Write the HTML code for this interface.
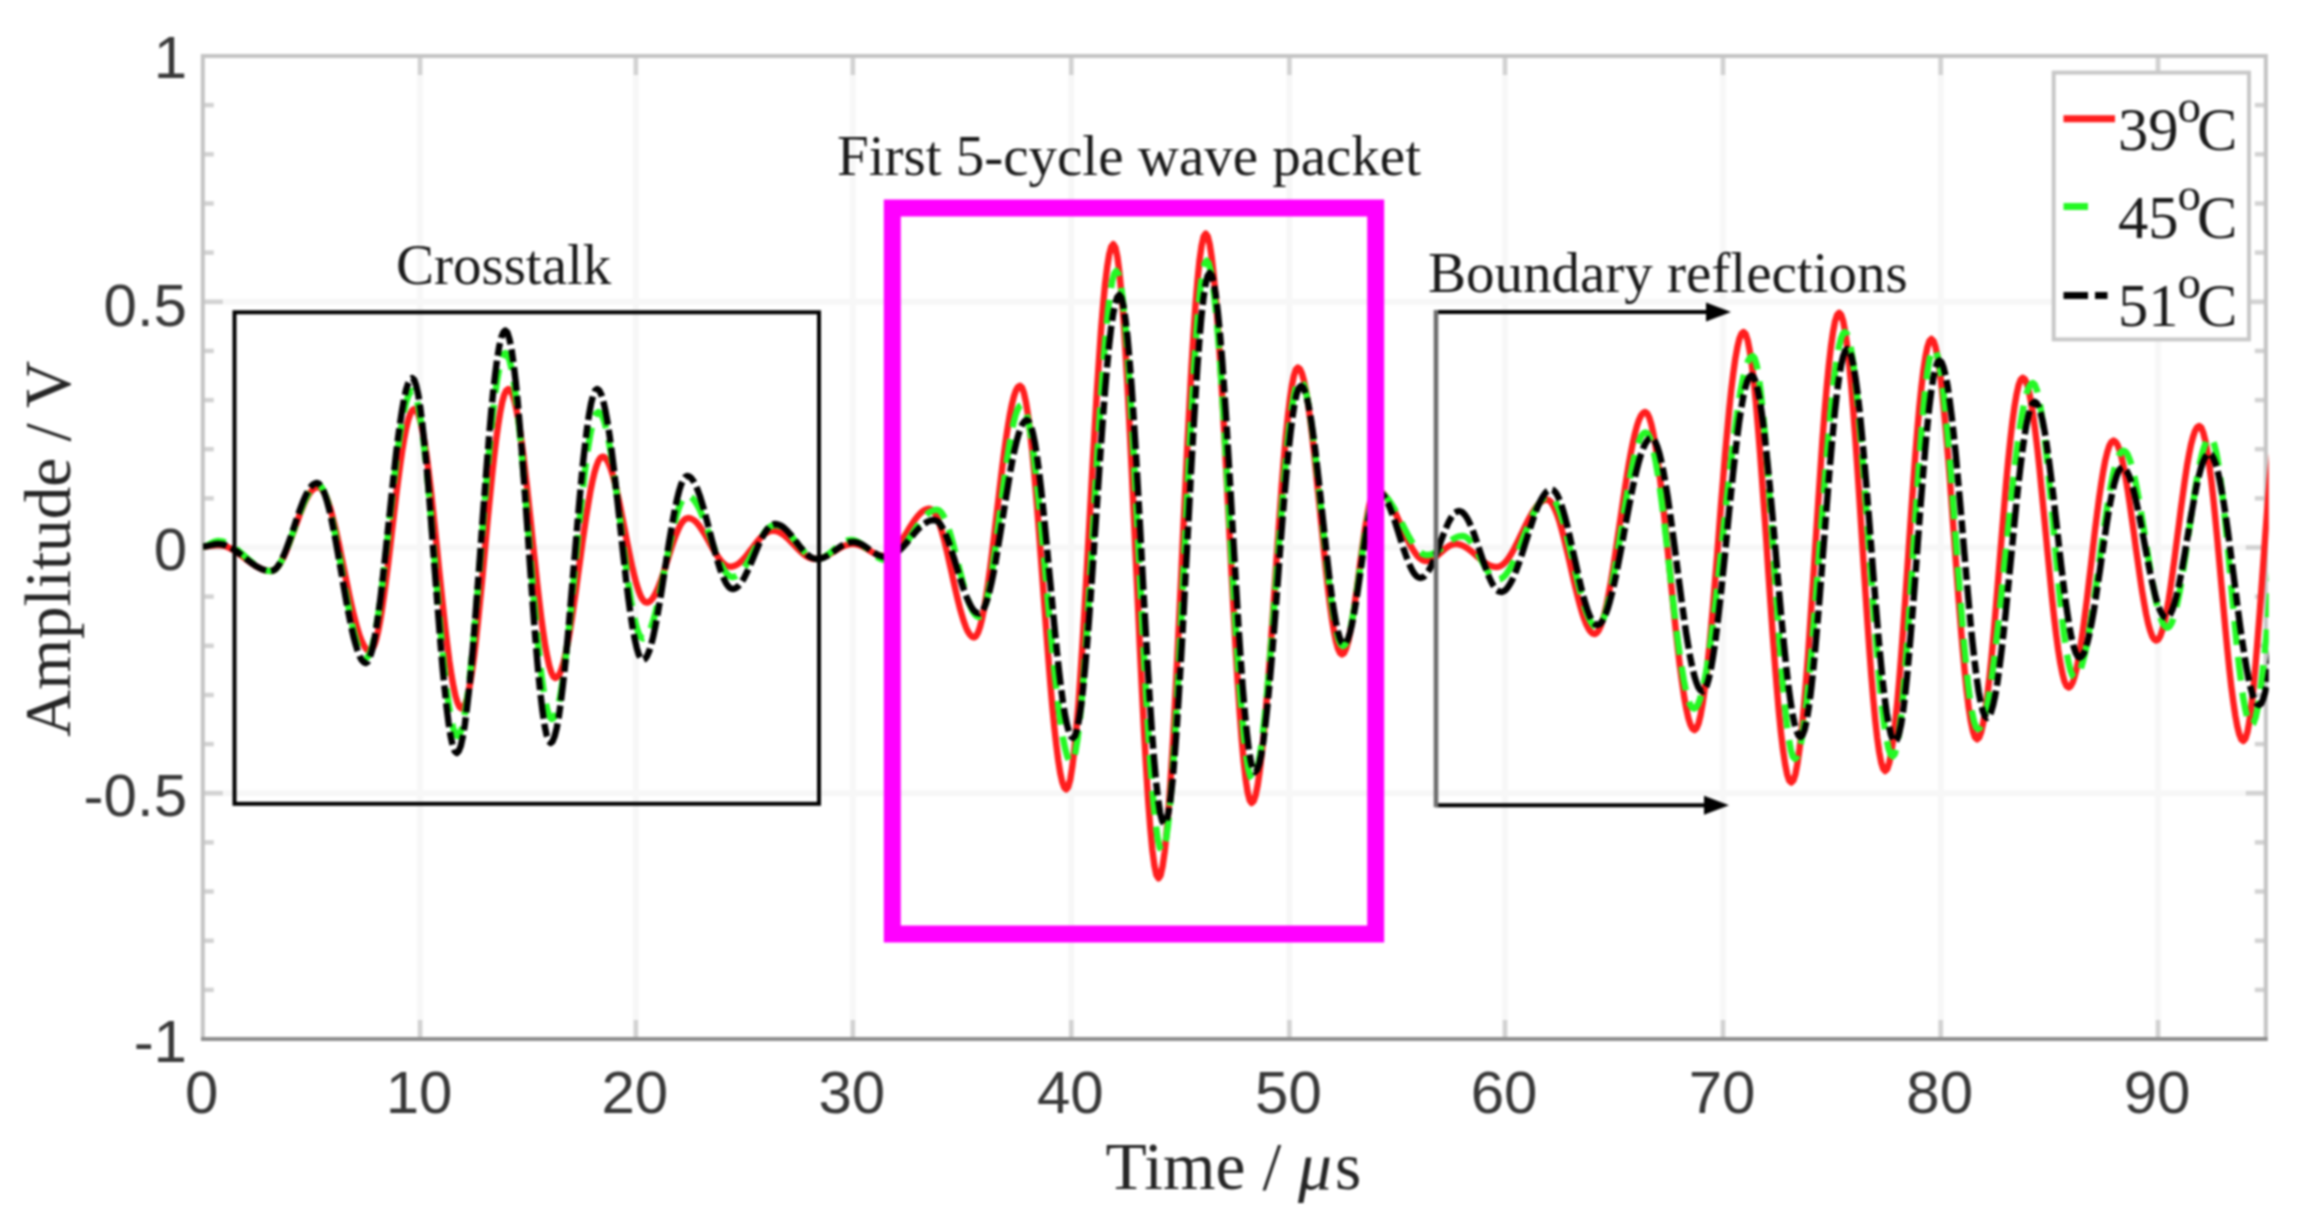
<!DOCTYPE html>
<html lang="en"><head><meta charset="utf-8"><title>Waveforms</title>
<style>html,body{margin:0;padding:0;background:#fff}body{width:2309px;height:1229px;overflow:hidden}svg{display:block;filter:blur(1.1px)}</style></head>
<body>
<svg width="2309" height="1229" viewBox="0 0 2309 1229">
<defs><clipPath id="pc"><rect x="202.8" y="56.0" width="2066.0" height="983.0"/></clipPath></defs>
<rect width="2309" height="1229" fill="#fff"/>
<g stroke="#f7f7f7" stroke-width="6" fill="none">
<line x1="420.1" y1="56.0" x2="420.1" y2="1039.0"/>
<line x1="635.8" y1="56.0" x2="635.8" y2="1039.0"/>
<line x1="852.8" y1="56.0" x2="852.8" y2="1039.0"/>
<line x1="1071.3" y1="56.0" x2="1071.3" y2="1039.0"/>
<line x1="1289.4" y1="56.0" x2="1289.4" y2="1039.0"/>
<line x1="1505.0" y1="56.0" x2="1505.0" y2="1039.0"/>
<line x1="1723.0" y1="56.0" x2="1723.0" y2="1039.0"/>
<line x1="1940.7" y1="56.0" x2="1940.7" y2="1039.0"/>
<line x1="2158.0" y1="56.0" x2="2158.0" y2="1039.0"/>
<line x1="202.8" y1="301.8" x2="2265.8" y2="301.8"/>
<line x1="202.8" y1="547.5" x2="2265.8" y2="547.5"/>
<line x1="202.8" y1="793.2" x2="2265.8" y2="793.2"/>
</g>
<g stroke="#d2d2d2" stroke-width="4.5" fill="none">
<line x1="420.1" y1="1039.0" x2="420.1" y2="1020.0"/>
<line x1="420.1" y1="56.0" x2="420.1" y2="75.0"/>
<line x1="635.8" y1="1039.0" x2="635.8" y2="1020.0"/>
<line x1="635.8" y1="56.0" x2="635.8" y2="75.0"/>
<line x1="852.8" y1="1039.0" x2="852.8" y2="1020.0"/>
<line x1="852.8" y1="56.0" x2="852.8" y2="75.0"/>
<line x1="1071.3" y1="1039.0" x2="1071.3" y2="1020.0"/>
<line x1="1071.3" y1="56.0" x2="1071.3" y2="75.0"/>
<line x1="1289.4" y1="1039.0" x2="1289.4" y2="1020.0"/>
<line x1="1289.4" y1="56.0" x2="1289.4" y2="75.0"/>
<line x1="1505.0" y1="1039.0" x2="1505.0" y2="1020.0"/>
<line x1="1505.0" y1="56.0" x2="1505.0" y2="75.0"/>
<line x1="1723.0" y1="1039.0" x2="1723.0" y2="1020.0"/>
<line x1="1723.0" y1="56.0" x2="1723.0" y2="75.0"/>
<line x1="1940.7" y1="1039.0" x2="1940.7" y2="1020.0"/>
<line x1="1940.7" y1="56.0" x2="1940.7" y2="75.0"/>
<line x1="2158.0" y1="1039.0" x2="2158.0" y2="1020.0"/>
<line x1="2158.0" y1="56.0" x2="2158.0" y2="75.0"/>
<line x1="202.8" y1="989.9" x2="213.8" y2="989.9"/>
<line x1="2265.8" y1="989.9" x2="2254.8" y2="989.9"/>
<line x1="202.8" y1="940.7" x2="213.8" y2="940.7"/>
<line x1="2265.8" y1="940.7" x2="2254.8" y2="940.7"/>
<line x1="202.8" y1="891.5" x2="213.8" y2="891.5"/>
<line x1="2265.8" y1="891.5" x2="2254.8" y2="891.5"/>
<line x1="202.8" y1="842.4" x2="213.8" y2="842.4"/>
<line x1="2265.8" y1="842.4" x2="2254.8" y2="842.4"/>
<line x1="202.8" y1="793.2" x2="222.8" y2="793.2"/>
<line x1="2265.8" y1="793.2" x2="2245.8" y2="793.2"/>
<line x1="202.8" y1="744.1" x2="213.8" y2="744.1"/>
<line x1="2265.8" y1="744.1" x2="2254.8" y2="744.1"/>
<line x1="202.8" y1="695.0" x2="213.8" y2="695.0"/>
<line x1="2265.8" y1="695.0" x2="2254.8" y2="695.0"/>
<line x1="202.8" y1="645.8" x2="213.8" y2="645.8"/>
<line x1="2265.8" y1="645.8" x2="2254.8" y2="645.8"/>
<line x1="202.8" y1="596.6" x2="213.8" y2="596.6"/>
<line x1="2265.8" y1="596.6" x2="2254.8" y2="596.6"/>
<line x1="202.8" y1="547.5" x2="222.8" y2="547.5"/>
<line x1="2265.8" y1="547.5" x2="2245.8" y2="547.5"/>
<line x1="202.8" y1="498.4" x2="213.8" y2="498.4"/>
<line x1="2265.8" y1="498.4" x2="2254.8" y2="498.4"/>
<line x1="202.8" y1="449.2" x2="213.8" y2="449.2"/>
<line x1="2265.8" y1="449.2" x2="2254.8" y2="449.2"/>
<line x1="202.8" y1="400.1" x2="213.8" y2="400.1"/>
<line x1="2265.8" y1="400.1" x2="2254.8" y2="400.1"/>
<line x1="202.8" y1="350.9" x2="213.8" y2="350.9"/>
<line x1="2265.8" y1="350.9" x2="2254.8" y2="350.9"/>
<line x1="202.8" y1="301.8" x2="222.8" y2="301.8"/>
<line x1="2265.8" y1="301.8" x2="2245.8" y2="301.8"/>
<line x1="202.8" y1="252.6" x2="213.8" y2="252.6"/>
<line x1="2265.8" y1="252.6" x2="2254.8" y2="252.6"/>
<line x1="202.8" y1="203.5" x2="213.8" y2="203.5"/>
<line x1="2265.8" y1="203.5" x2="2254.8" y2="203.5"/>
<line x1="202.8" y1="154.3" x2="213.8" y2="154.3"/>
<line x1="2265.8" y1="154.3" x2="2254.8" y2="154.3"/>
<line x1="202.8" y1="105.1" x2="213.8" y2="105.1"/>
<line x1="2265.8" y1="105.1" x2="2254.8" y2="105.1"/>
</g>
<path d="M202.8 1039.0 L202.8 56.0 L2265.8 56.0 L2265.8 1039.0" stroke="#c4c4c4" stroke-width="4" fill="none" stroke-linecap="square"/>
<line x1="201.0" y1="1039.0" x2="2267.6" y2="1039.0" stroke="#8e8e8e" stroke-width="4"/>
<g clip-path="url(#pc)" fill="none" stroke-linejoin="round">
<path d="M203.0 546.5 L205.1 546.4 L207.3 546.2 L209.4 545.9 L211.6 545.6 L213.7 545.3 L215.9 545.1 L218.0 545.0 L220.0 545.1 L222.1 545.4 L224.1 545.8 L226.2 546.5 L228.2 547.3 L230.2 548.3 L232.3 549.4 L234.3 550.6 L236.3 552.0 L238.4 553.4 L240.4 554.9 L242.5 556.4 L244.5 558.0 L246.5 559.6 L248.6 561.1 L250.6 562.6 L252.7 564.0 L254.7 565.4 L256.7 566.6 L258.8 567.7 L260.8 568.7 L262.8 569.5 L264.9 570.2 L266.9 570.6 L269.0 570.9 L271.0 571.0 L273.0 570.6 L275.1 569.4 L277.1 567.5 L279.2 564.9 L281.2 561.6 L283.3 557.7 L285.3 553.2 L287.3 548.3 L289.4 543.1 L291.4 537.5 L293.5 531.9 L295.5 526.1 L297.6 520.5 L299.6 514.9 L301.7 509.7 L303.7 504.8 L305.7 500.3 L307.8 496.4 L309.8 493.1 L311.9 490.5 L313.9 488.6 L316.0 487.4 L318.0 487.0 L320.1 487.6 L322.2 489.6 L324.2 492.8 L326.3 497.1 L328.4 502.7 L330.5 509.2 L332.5 516.7 L334.6 525.1 L336.7 534.1 L338.8 543.7 L340.8 553.6 L342.9 563.9 L345.0 574.1 L347.1 584.4 L349.1 594.3 L351.2 603.9 L353.3 612.9 L355.4 621.3 L357.4 628.8 L359.5 635.3 L361.6 640.9 L363.7 645.2 L365.7 648.4 L367.8 650.4 L369.9 651.0 L371.9 649.8 L373.9 646.1 L376.0 640.1 L378.0 631.8 L380.0 621.4 L382.0 609.2 L384.0 595.4 L386.0 580.3 L388.1 564.1 L390.1 547.2 L392.1 530.0 L394.1 512.8 L396.1 495.9 L398.2 479.7 L400.2 464.6 L402.2 450.8 L404.2 438.6 L406.2 428.2 L408.2 419.9 L410.3 413.9 L412.3 410.2 L414.3 409.0 L416.4 410.4 L418.4 414.6 L420.5 421.4 L422.5 430.8 L424.6 442.6 L426.7 456.5 L428.7 472.4 L430.8 489.9 L432.8 508.6 L434.9 528.3 L437.0 548.5 L439.0 569.0 L441.1 589.2 L443.2 608.9 L445.2 627.6 L447.3 645.1 L449.3 661.0 L451.4 674.9 L453.5 686.7 L455.5 696.1 L457.6 702.9 L459.6 707.1 L461.7 708.5 L463.7 707.0 L465.8 702.6 L467.8 695.3 L469.8 685.2 L471.8 672.7 L473.9 657.8 L475.9 640.9 L477.9 622.2 L479.9 602.2 L482.0 581.3 L484.0 559.7 L486.0 537.8 L488.0 516.2 L490.1 495.3 L492.1 475.3 L494.1 456.6 L496.1 439.7 L498.2 424.8 L500.2 412.3 L502.2 402.2 L504.2 394.9 L506.3 390.5 L508.3 389.0 L510.4 390.3 L512.4 394.4 L514.5 401.0 L516.5 410.0 L518.6 421.4 L520.6 434.9 L522.7 450.2 L524.7 467.0 L526.8 485.1 L528.8 504.1 L530.9 523.6 L532.9 543.4 L535.0 562.9 L537.0 581.9 L539.1 600.0 L541.1 616.8 L543.2 632.1 L545.2 645.6 L547.3 657.0 L549.3 666.0 L551.4 672.6 L553.4 676.7 L555.5 678.0 L557.5 677.0 L559.6 673.9 L561.6 668.8 L563.7 661.9 L565.7 653.2 L567.8 642.9 L569.8 631.1 L571.9 618.2 L573.9 604.4 L576.0 589.8 L578.0 574.9 L580.1 559.7 L582.1 544.8 L584.2 530.2 L586.2 516.4 L588.3 503.5 L590.3 491.7 L592.4 481.4 L594.4 472.7 L596.5 465.8 L598.5 460.7 L600.6 457.6 L602.6 456.6 L604.6 457.3 L606.6 459.6 L608.6 463.2 L610.6 468.2 L612.6 474.4 L614.6 481.8 L616.6 490.1 L618.6 499.3 L620.6 509.0 L622.6 519.2 L624.7 529.6 L626.7 540.0 L628.7 550.2 L630.7 559.9 L632.7 569.1 L634.7 577.4 L636.7 584.8 L638.7 591.0 L640.7 596.0 L642.7 599.6 L644.7 601.9 L646.7 602.6 L648.8 602.1 L650.8 600.5 L652.9 598.0 L655.0 594.5 L657.1 590.2 L659.1 585.2 L661.2 579.5 L663.3 573.4 L665.3 566.9 L667.4 560.3 L669.5 553.7 L671.5 547.2 L673.6 541.1 L675.7 535.4 L677.8 530.4 L679.8 526.1 L681.9 522.6 L684.0 520.1 L686.0 518.5 L688.1 518.0 L690.1 518.3 L692.1 519.1 L694.2 520.4 L696.2 522.2 L698.2 524.5 L700.2 527.2 L702.2 530.2 L704.3 533.5 L706.3 536.9 L708.3 540.5 L710.3 544.2 L712.3 547.8 L714.3 551.2 L716.4 554.5 L718.4 557.5 L720.4 560.2 L722.4 562.5 L724.4 564.3 L726.5 565.6 L728.5 566.4 L730.5 566.7 L732.5 566.5 L734.5 565.9 L736.6 564.9 L738.6 563.6 L740.6 561.9 L742.6 559.9 L744.7 557.7 L746.7 555.3 L748.7 552.7 L750.7 550.0 L752.8 547.4 L754.8 544.7 L756.8 542.1 L758.8 539.7 L760.9 537.5 L762.9 535.5 L764.9 533.8 L766.9 532.5 L769.0 531.5 L771.0 530.9 L773.0 530.7 L775.0 530.9 L777.0 531.3 L779.0 532.1 L781.0 533.2 L783.0 534.5 L785.0 536.0 L787.0 537.8 L789.0 539.7 L791.0 541.7 L793.0 543.8 L795.0 545.9 L797.0 548.0 L799.0 550.0 L801.0 551.9 L803.0 553.7 L805.0 555.2 L807.0 556.5 L809.0 557.6 L811.0 558.4 L813.0 558.8 L815.0 559.0 L817.0 558.9 L819.0 558.6 L821.0 558.1 L823.0 557.4 L825.0 556.6 L827.0 555.6 L829.0 554.5 L831.0 553.3 L833.0 552.1 L835.0 550.9 L837.0 549.7 L839.0 548.5 L841.0 547.4 L843.0 546.4 L845.0 545.6 L847.0 544.9 L849.0 544.4 L851.0 544.1 L853.0 544.0 L855.1 544.1 L857.1 544.5 L859.2 545.1 L861.3 546.0 L863.3 547.0 L865.4 548.1 L867.5 549.4 L869.5 550.6 L871.6 551.9 L873.7 553.0 L875.7 554.0 L877.8 554.9 L879.9 555.5 L881.9 555.9 L884.0 556.0 L886.1 555.8 L888.1 555.0 L890.2 553.9 L892.3 552.2 L894.3 550.2 L896.4 547.8 L898.5 545.1 L900.5 542.2 L902.6 539.0 L904.7 535.7 L906.8 532.4 L908.8 529.0 L910.9 525.7 L913.0 522.5 L915.0 519.6 L917.1 516.9 L919.2 514.5 L921.2 512.5 L923.3 510.8 L925.4 509.7 L927.4 508.9 L929.5 508.7 L931.5 509.4 L933.5 511.3 L935.6 514.5 L937.6 518.9 L939.6 524.4 L941.6 530.9 L943.7 538.3 L945.7 546.3 L947.7 554.9 L949.7 563.9 L951.8 573.0 L953.8 582.2 L955.8 591.2 L957.8 599.8 L959.8 607.8 L961.9 615.2 L963.9 621.7 L965.9 627.2 L967.9 631.6 L970.0 634.8 L972.0 636.7 L974.0 637.4 L976.0 636.2 L978.0 632.7 L980.0 627.0 L982.0 619.1 L984.0 609.2 L986.0 597.4 L988.0 584.1 L990.0 569.4 L992.0 553.7 L994.0 537.2 L996.0 520.1 L998.0 503.0 L1000.0 485.9 L1002.0 469.4 L1004.0 453.7 L1006.0 439.0 L1008.0 425.7 L1010.0 413.9 L1012.0 404.0 L1014.0 396.1 L1016.0 390.4 L1018.0 386.9 L1020.0 385.7 L1022.0 387.6 L1024.0 393.2 L1026.0 402.4 L1028.0 415.1 L1030.0 431.0 L1032.1 449.8 L1034.1 471.1 L1036.1 494.7 L1038.1 520.0 L1040.1 546.5 L1042.1 573.8 L1044.1 601.3 L1046.1 628.6 L1048.1 655.1 L1050.1 680.4 L1052.1 704.0 L1054.1 725.3 L1056.2 744.1 L1058.2 760.0 L1060.2 772.7 L1062.2 781.9 L1064.2 787.5 L1066.2 789.4 L1068.2 786.9 L1070.3 779.3 L1072.3 766.8 L1074.4 749.7 L1076.4 728.3 L1078.5 702.9 L1080.5 674.0 L1082.6 642.2 L1084.6 608.1 L1086.7 572.3 L1088.7 535.4 L1090.8 498.2 L1092.8 461.3 L1094.9 425.5 L1096.9 391.4 L1099.0 359.6 L1101.0 330.7 L1103.1 305.3 L1105.1 283.9 L1107.2 266.8 L1109.2 254.3 L1111.3 246.7 L1113.3 244.2 L1115.4 247.4 L1117.4 257.0 L1119.5 272.9 L1121.5 294.5 L1123.6 321.6 L1125.6 353.6 L1127.7 389.8 L1129.7 429.5 L1131.8 471.9 L1133.8 516.1 L1135.9 561.2 L1138.0 606.4 L1140.0 650.6 L1142.1 693.0 L1144.1 732.7 L1146.2 768.9 L1148.2 800.9 L1150.3 828.0 L1152.3 849.6 L1154.4 865.5 L1156.4 875.1 L1158.5 878.3 L1160.6 875.3 L1162.6 866.3 L1164.7 851.6 L1166.7 831.4 L1168.8 806.0 L1170.8 776.0 L1172.9 741.9 L1174.9 704.3 L1177.0 663.9 L1179.0 621.6 L1181.1 578.0 L1183.1 534.0 L1185.2 490.4 L1187.2 448.1 L1189.3 407.7 L1191.3 370.1 L1193.4 336.0 L1195.4 306.0 L1197.5 280.6 L1199.5 260.4 L1201.6 245.7 L1203.6 236.7 L1205.7 233.7 L1207.7 236.4 L1209.7 244.3 L1211.7 257.3 L1213.7 275.1 L1215.7 297.5 L1217.7 324.1 L1219.7 354.2 L1221.7 387.4 L1223.7 423.0 L1225.7 460.4 L1227.7 498.9 L1229.7 537.8 L1231.7 576.3 L1233.7 613.7 L1235.7 649.3 L1237.7 682.5 L1239.7 712.6 L1241.7 739.2 L1243.7 761.6 L1245.7 779.4 L1247.7 792.4 L1249.7 800.3 L1251.7 803.0 L1253.7 801.0 L1255.7 794.9 L1257.7 785.0 L1259.7 771.3 L1261.7 754.2 L1263.8 733.9 L1265.8 710.8 L1267.8 685.5 L1269.8 658.2 L1271.8 629.6 L1273.8 600.2 L1275.8 570.4 L1277.8 541.0 L1279.8 512.4 L1281.8 485.1 L1283.8 459.8 L1285.8 436.7 L1287.9 416.4 L1289.9 399.3 L1291.9 385.6 L1293.9 375.7 L1295.9 369.6 L1297.9 367.6 L1299.9 369.1 L1301.9 373.4 L1303.9 380.6 L1305.9 390.4 L1307.9 402.6 L1309.9 417.1 L1311.9 433.5 L1313.9 451.5 L1315.9 470.6 L1317.9 490.6 L1320.0 511.0 L1322.0 531.5 L1324.0 551.5 L1326.0 570.6 L1328.0 588.6 L1330.0 605.0 L1332.0 619.5 L1334.0 631.7 L1336.0 641.5 L1338.0 648.7 L1340.0 653.0 L1342.0 654.5 L1344.0 653.1 L1346.0 648.9 L1348.0 642.2 L1350.0 633.0 L1352.0 621.8 L1354.0 608.9 L1356.0 594.8 L1358.0 579.8 L1360.0 564.7 L1362.0 549.7 L1364.0 535.6 L1366.0 522.7 L1368.0 511.5 L1370.0 502.3 L1372.0 495.6 L1374.0 491.4 L1376.0 490.0 L1378.0 490.3 L1380.0 491.1 L1382.0 492.5 L1384.0 494.4 L1386.0 496.8 L1388.0 499.6 L1390.0 502.9 L1392.0 506.5 L1394.0 510.4 L1396.0 514.5 L1398.0 518.8 L1400.0 523.3 L1402.0 527.7 L1404.0 532.2 L1406.0 536.5 L1408.0 540.6 L1410.0 544.5 L1412.0 548.1 L1414.0 551.4 L1416.0 554.2 L1418.0 556.6 L1420.0 558.5 L1422.0 559.9 L1424.0 560.7 L1426.0 561.0 L1428.1 560.8 L1430.2 560.2 L1432.4 559.1 L1434.5 557.8 L1436.6 556.2 L1438.7 554.4 L1440.8 552.5 L1443.0 550.6 L1445.1 548.8 L1447.2 547.2 L1449.3 545.9 L1451.5 544.8 L1453.6 544.2 L1455.7 544.0 L1457.8 544.1 L1459.8 544.6 L1461.9 545.3 L1463.9 546.2 L1466.0 547.4 L1468.0 548.7 L1470.0 550.3 L1472.1 551.9 L1474.2 553.7 L1476.2 555.5 L1478.2 557.3 L1480.3 559.1 L1482.4 560.7 L1484.4 562.3 L1486.5 563.6 L1488.5 564.8 L1490.5 565.7 L1492.6 566.4 L1494.7 566.9 L1496.7 567.0 L1498.7 566.7 L1500.7 565.9 L1502.7 564.6 L1504.7 562.8 L1506.7 560.6 L1508.7 557.9 L1510.7 554.8 L1512.7 551.4 L1514.7 547.7 L1516.7 543.7 L1518.7 539.7 L1520.7 535.5 L1522.8 531.2 L1524.8 527.0 L1526.8 523.0 L1528.8 519.0 L1530.8 515.3 L1532.8 511.9 L1534.8 508.8 L1536.8 506.1 L1538.8 503.9 L1540.8 502.1 L1542.8 500.8 L1544.8 500.0 L1546.8 499.7 L1548.9 500.3 L1551.0 502.2 L1553.0 505.3 L1555.1 509.5 L1557.2 514.8 L1559.3 521.0 L1561.3 528.1 L1563.4 536.0 L1565.5 544.4 L1567.6 553.2 L1569.7 562.3 L1571.7 571.4 L1573.8 580.5 L1575.9 589.3 L1578.0 597.7 L1580.1 605.6 L1582.1 612.7 L1584.2 618.9 L1586.3 624.2 L1588.4 628.4 L1590.4 631.5 L1592.5 633.4 L1594.6 634.0 L1596.6 633.1 L1598.6 630.5 L1600.7 626.2 L1602.7 620.3 L1604.7 612.8 L1606.7 603.9 L1608.7 593.8 L1610.8 582.5 L1612.8 570.3 L1614.8 557.3 L1616.8 543.8 L1618.8 530.0 L1620.9 516.0 L1622.9 502.2 L1624.9 488.7 L1626.9 475.7 L1628.9 463.5 L1631.0 452.2 L1633.0 442.1 L1635.0 433.2 L1637.0 425.7 L1639.0 419.8 L1641.1 415.5 L1643.1 412.9 L1645.1 412.0 L1647.2 413.4 L1649.2 417.4 L1651.3 424.1 L1653.3 433.3 L1655.4 444.9 L1657.4 458.6 L1659.5 474.2 L1661.6 491.5 L1663.6 510.2 L1665.7 529.8 L1667.7 550.2 L1669.8 571.0 L1671.9 591.8 L1673.9 612.2 L1676.0 631.8 L1678.0 650.5 L1680.1 667.8 L1682.2 683.4 L1684.2 697.1 L1686.3 708.7 L1688.3 717.9 L1690.4 724.6 L1692.4 728.6 L1694.5 730.0 L1696.5 728.3 L1698.6 723.2 L1700.6 714.9 L1702.7 703.3 L1704.7 688.9 L1706.8 671.7 L1708.8 652.1 L1710.8 630.5 L1712.9 607.2 L1714.9 582.5 L1717.0 557.0 L1719.0 531.0 L1721.0 505.0 L1723.1 479.5 L1725.1 454.8 L1727.2 431.5 L1729.2 409.9 L1731.2 390.3 L1733.3 373.1 L1735.3 358.7 L1737.4 347.1 L1739.4 338.8 L1741.5 333.7 L1743.5 332.0 L1745.6 334.1 L1747.7 340.4 L1749.7 350.7 L1751.8 364.8 L1753.9 382.5 L1756.0 403.5 L1758.0 427.4 L1760.1 453.6 L1762.2 481.9 L1764.3 511.5 L1766.4 541.9 L1768.4 572.7 L1770.5 603.1 L1772.6 632.7 L1774.7 661.0 L1776.8 687.2 L1778.8 711.1 L1780.9 732.1 L1783.0 749.8 L1785.1 763.9 L1787.1 774.2 L1789.2 780.5 L1791.3 782.6 L1793.4 780.4 L1795.5 773.9 L1797.5 763.2 L1799.6 748.4 L1801.7 729.9 L1803.8 708.0 L1805.9 683.2 L1808.0 655.8 L1810.0 626.4 L1812.1 595.5 L1814.2 563.7 L1816.3 531.7 L1818.4 499.9 L1820.5 469.0 L1822.5 439.6 L1824.6 412.2 L1826.7 387.4 L1828.8 365.5 L1830.9 347.0 L1833.0 332.2 L1835.0 321.5 L1837.1 315.0 L1839.2 312.8 L1841.2 314.9 L1843.2 321.3 L1845.2 331.8 L1847.2 346.2 L1849.2 364.2 L1851.2 385.5 L1853.2 409.8 L1855.2 436.5 L1857.2 465.2 L1859.2 495.3 L1861.2 526.3 L1863.2 557.5 L1865.2 588.5 L1867.2 618.6 L1869.2 647.3 L1871.2 674.0 L1873.2 698.3 L1875.2 719.6 L1877.2 737.6 L1879.2 752.0 L1881.2 762.5 L1883.2 768.9 L1885.2 771.0 L1887.2 769.0 L1889.2 763.0 L1891.2 753.1 L1893.2 739.6 L1895.2 722.6 L1897.3 702.4 L1899.3 679.6 L1901.3 654.4 L1903.3 627.3 L1905.3 598.9 L1907.3 569.7 L1909.3 540.3 L1911.3 511.1 L1913.3 482.7 L1915.3 455.6 L1917.3 430.4 L1919.3 407.6 L1921.4 387.4 L1923.4 370.4 L1925.4 356.9 L1927.4 347.0 L1929.4 341.0 L1931.4 339.0 L1933.5 341.0 L1935.5 347.1 L1937.6 357.1 L1939.7 370.8 L1941.8 387.9 L1943.8 408.1 L1945.9 430.9 L1948.0 456.0 L1950.1 482.8 L1952.1 510.7 L1954.2 539.1 L1956.3 567.6 L1958.3 595.5 L1960.4 622.3 L1962.5 647.4 L1964.6 670.2 L1966.6 690.4 L1968.7 707.5 L1970.8 721.2 L1972.9 731.2 L1974.9 737.3 L1977.0 739.3 L1979.1 737.5 L1981.2 732.0 L1983.2 723.0 L1985.3 710.6 L1987.4 695.2 L1989.5 676.9 L1991.6 656.3 L1993.7 633.6 L1995.7 609.5 L1997.8 584.3 L1999.9 558.5 L2002.0 532.8 L2004.1 507.6 L2006.1 483.5 L2008.2 460.8 L2010.3 440.2 L2012.4 421.9 L2014.5 406.5 L2016.6 394.1 L2018.6 385.1 L2020.7 379.6 L2022.8 377.8 L2024.9 379.4 L2027.0 384.1 L2029.0 391.8 L2031.1 402.4 L2033.2 415.6 L2035.3 431.2 L2037.4 448.9 L2039.5 468.3 L2041.5 489.0 L2043.6 510.6 L2045.7 532.6 L2047.8 554.7 L2049.9 576.3 L2051.9 597.0 L2054.0 616.4 L2056.1 634.1 L2058.2 649.7 L2060.3 662.9 L2062.4 673.5 L2064.4 681.2 L2066.5 685.9 L2068.6 687.5 L2070.6 686.2 L2072.7 682.5 L2074.7 676.3 L2076.8 667.9 L2078.8 657.3 L2080.8 644.9 L2082.9 630.8 L2084.9 615.3 L2087.0 598.8 L2089.0 581.6 L2091.1 564.1 L2093.1 546.5 L2095.1 529.3 L2097.2 512.8 L2099.2 497.3 L2101.3 483.2 L2103.3 470.8 L2105.3 460.2 L2107.4 451.8 L2109.4 445.6 L2111.5 441.9 L2113.5 440.6 L2115.5 441.7 L2117.6 445.0 L2119.6 450.5 L2121.7 458.0 L2123.7 467.3 L2125.7 478.3 L2127.8 490.6 L2129.8 504.1 L2131.8 518.3 L2133.9 533.1 L2135.9 548.1 L2138.0 562.9 L2140.0 577.1 L2142.0 590.6 L2144.1 602.9 L2146.1 613.9 L2148.1 623.2 L2150.2 630.7 L2152.2 636.2 L2154.3 639.5 L2156.3 640.6 L2158.3 639.4 L2160.4 635.8 L2162.4 630.0 L2164.5 622.0 L2166.5 612.0 L2168.6 600.2 L2170.6 587.0 L2172.6 572.5 L2174.7 557.2 L2176.7 541.3 L2178.8 525.3 L2180.8 509.4 L2182.9 494.1 L2184.9 479.7 L2186.9 466.4 L2189.0 454.6 L2191.0 444.6 L2193.1 436.6 L2195.1 430.8 L2197.2 427.2 L2199.2 426.0 L2201.2 427.6 L2203.2 432.4 L2205.2 440.2 L2207.2 451.0 L2209.2 464.5 L2211.3 480.4 L2213.3 498.3 L2215.3 518.1 L2217.3 539.1 L2219.3 561.1 L2221.3 583.5 L2223.3 605.9 L2225.3 627.9 L2227.3 648.9 L2229.3 668.7 L2231.3 686.6 L2233.4 702.5 L2235.4 716.0 L2237.4 726.8 L2239.4 734.6 L2241.4 739.4 L2243.4 741.0 L2245.4 738.7 L2247.5 731.8 L2249.5 720.6 L2251.5 705.3 L2253.6 686.3 L2255.6 664.2 L2257.6 639.6 L2259.7 613.1 L2261.7 585.5 L2263.7 557.5 L2265.7 529.9 L2267.8 503.4 L2269.8 478.8 L2271.8 456.7 L2273.9 437.7 L2275.9 422.4 L2277.9 411.2 L2280.0 404.3 L2282.0 402.0" stroke="#ff1e1e" stroke-width="6.4"/>
<path d="M203.0 546.5 L205.1 546.2 L207.3 545.5 L209.4 544.4 L211.6 543.1 L213.7 542.0 L215.9 541.3 L218.0 541.0 L220.0 541.1 L222.1 541.4 L224.1 542.0 L226.2 542.7 L228.2 543.7 L230.2 544.8 L232.3 546.1 L234.3 547.5 L236.3 549.0 L238.4 550.7 L240.4 552.4 L242.5 554.2 L244.5 556.0 L246.5 557.8 L248.6 559.6 L250.6 561.3 L252.7 563.0 L254.7 564.5 L256.7 565.9 L258.8 567.2 L260.8 568.3 L262.8 569.3 L264.9 570.0 L266.9 570.6 L269.0 570.9 L271.0 571.0 L273.0 570.6 L275.1 569.4 L277.1 567.4 L279.2 564.7 L281.2 561.4 L283.3 557.3 L285.3 552.8 L287.3 547.8 L289.4 542.4 L291.4 536.7 L293.5 530.9 L295.5 525.1 L297.6 519.3 L299.6 513.6 L301.7 508.2 L303.7 503.2 L305.7 498.7 L307.8 494.6 L309.8 491.3 L311.9 488.6 L313.9 486.6 L316.0 485.4 L318.0 485.0 L320.0 485.7 L322.0 487.9 L324.0 491.6 L326.0 496.6 L328.0 502.9 L330.0 510.3 L332.0 518.8 L334.0 528.2 L336.0 538.4 L338.0 549.1 L340.0 560.2 L342.0 571.5 L344.0 582.8 L346.0 593.9 L348.0 604.6 L350.0 614.8 L352.0 624.2 L354.0 632.7 L356.0 640.1 L358.0 646.4 L360.0 651.4 L362.0 655.1 L364.0 657.3 L366.0 658.0 L368.0 656.8 L370.0 653.0 L372.0 646.9 L374.0 638.6 L376.0 628.1 L378.1 615.6 L380.1 601.5 L382.1 585.9 L384.1 569.2 L386.1 551.7 L388.1 533.6 L390.1 515.4 L392.1 497.3 L394.1 479.8 L396.1 463.1 L398.1 447.5 L400.1 433.4 L402.2 420.9 L404.2 410.4 L406.2 402.1 L408.2 396.0 L410.2 392.2 L412.2 391.0 L414.3 392.8 L416.3 398.0 L418.4 406.6 L420.4 418.4 L422.5 433.1 L424.6 450.5 L426.6 470.2 L428.7 491.8 L430.7 514.9 L432.8 539.0 L434.9 563.5 L436.9 588.0 L439.0 612.1 L441.0 635.2 L443.1 656.8 L445.1 676.5 L447.2 693.9 L449.3 708.6 L451.3 720.4 L453.4 729.0 L455.4 734.2 L457.5 736.0 L459.6 734.2 L461.7 728.9 L463.7 720.1 L465.8 708.1 L467.9 693.0 L470.0 675.2 L472.0 654.9 L474.1 632.6 L476.2 608.6 L478.3 583.5 L480.4 557.6 L482.4 531.4 L484.5 505.5 L486.6 480.4 L488.7 456.4 L490.8 434.1 L492.8 413.8 L494.9 396.0 L497.0 380.9 L499.1 368.9 L501.1 360.1 L503.2 354.8 L505.3 353.0 L507.3 354.7 L509.4 359.8 L511.4 368.2 L513.4 379.6 L515.5 394.0 L517.5 411.1 L519.5 430.5 L521.5 451.8 L523.6 474.7 L525.6 498.8 L527.6 523.5 L529.7 548.5 L531.7 573.2 L533.7 597.3 L535.8 620.2 L537.8 641.5 L539.8 660.9 L541.8 678.0 L543.9 692.4 L545.9 703.8 L547.9 712.2 L550.0 717.3 L552.0 719.0 L554.0 717.6 L556.0 713.3 L558.1 706.3 L560.1 696.7 L562.1 684.6 L564.1 670.3 L566.1 654.0 L568.1 636.1 L570.2 616.9 L572.2 596.7 L574.2 576.0 L576.2 555.0 L578.2 534.3 L580.2 514.1 L582.3 494.9 L584.3 477.0 L586.3 460.7 L588.3 446.4 L590.3 434.3 L592.3 424.7 L594.4 417.7 L596.4 413.4 L598.4 412.0 L600.4 413.2 L602.5 416.6 L604.5 422.2 L606.5 430.0 L608.5 439.7 L610.6 451.1 L612.6 464.0 L614.6 478.2 L616.6 493.4 L618.7 509.2 L620.7 525.3 L622.7 541.4 L624.8 557.2 L626.8 572.4 L628.8 586.6 L630.8 599.5 L632.9 610.9 L634.9 620.6 L636.9 628.4 L638.9 634.0 L641.0 637.4 L643.0 638.6 L645.0 637.9 L647.0 635.7 L649.0 632.1 L651.1 627.2 L653.1 621.1 L655.1 613.9 L657.1 605.8 L659.1 596.8 L661.1 587.2 L663.1 577.3 L665.1 567.1 L667.2 556.9 L669.2 547.0 L671.2 537.4 L673.2 528.4 L675.2 520.3 L677.2 513.1 L679.2 507.0 L681.3 502.1 L683.3 498.5 L685.3 496.3 L687.3 495.6 L689.4 496.0 L691.4 497.2 L693.5 499.3 L695.5 502.1 L697.6 505.5 L699.7 509.6 L701.7 514.3 L703.8 519.4 L705.8 524.8 L707.9 530.5 L710.0 536.3 L712.0 542.1 L714.1 547.8 L716.1 553.2 L718.2 558.3 L720.2 563.0 L722.3 567.1 L724.4 570.5 L726.4 573.3 L728.5 575.4 L730.5 576.6 L732.6 577.0 L734.6 576.7 L736.6 575.8 L738.7 574.4 L740.7 572.5 L742.7 570.1 L744.7 567.2 L746.7 564.0 L748.8 560.5 L750.8 556.8 L752.8 552.9 L754.8 549.1 L756.8 545.2 L758.8 541.5 L760.9 538.0 L762.9 534.8 L764.9 531.9 L766.9 529.5 L768.9 527.6 L771.0 526.2 L773.0 525.3 L775.0 525.0 L777.0 525.2 L779.0 525.8 L781.0 526.7 L783.0 528.0 L785.0 529.5 L787.0 531.4 L789.0 533.5 L791.0 535.8 L793.0 538.2 L795.0 540.7 L797.0 543.3 L799.0 545.8 L801.0 548.2 L803.0 550.5 L805.0 552.6 L807.0 554.5 L809.0 556.0 L811.0 557.3 L813.0 558.2 L815.0 558.8 L817.0 559.0 L819.0 558.8 L821.0 558.4 L823.0 557.6 L825.0 556.5 L827.0 555.2 L829.0 553.7 L831.0 552.1 L833.0 550.4 L835.0 548.6 L837.0 546.9 L839.0 545.3 L841.0 543.8 L843.0 542.5 L845.0 541.4 L847.0 540.6 L849.0 540.2 L851.0 540.0 L853.1 540.2 L855.1 540.7 L857.2 541.5 L859.2 542.6 L861.3 544.0 L863.4 545.5 L865.4 547.3 L867.5 549.1 L869.5 550.9 L871.6 552.7 L873.6 554.5 L875.7 556.0 L877.8 557.4 L879.8 558.5 L881.9 559.3 L883.9 559.8 L886.0 560.0 L888.0 559.8 L890.1 559.2 L892.1 558.2 L894.2 556.9 L896.2 555.2 L898.2 553.2 L900.3 550.9 L902.3 548.3 L904.4 545.6 L906.4 542.6 L908.4 539.6 L910.5 536.4 L912.5 533.3 L914.6 530.1 L916.6 527.1 L918.6 524.1 L920.7 521.4 L922.7 518.8 L924.8 516.5 L926.8 514.5 L928.8 512.8 L930.9 511.5 L932.9 510.5 L935.0 509.9 L937.0 509.7 L939.0 510.3 L941.0 512.1 L943.0 515.0 L945.0 519.0 L947.0 524.0 L949.0 529.9 L951.0 536.5 L953.0 543.7 L955.0 551.4 L957.0 559.3 L959.0 567.4 L961.0 575.3 L963.0 583.0 L965.0 590.2 L967.0 596.8 L969.0 602.7 L971.0 607.7 L973.0 611.7 L975.0 614.6 L977.0 616.4 L979.0 617.0 L981.0 615.8 L983.0 612.3 L985.1 606.5 L987.1 598.6 L989.1 588.7 L991.1 577.1 L993.2 564.0 L995.2 549.7 L997.2 534.6 L999.2 518.9 L1001.3 503.1 L1003.3 487.4 L1005.3 472.3 L1007.3 458.0 L1009.4 444.9 L1011.4 433.3 L1013.4 423.4 L1015.4 415.5 L1017.5 409.7 L1019.5 406.2 L1021.5 405.0 L1023.6 406.5 L1025.7 411.1 L1027.7 418.6 L1029.8 428.9 L1031.9 441.9 L1034.0 457.3 L1036.0 474.8 L1038.1 494.2 L1040.2 515.2 L1042.2 537.3 L1044.3 560.2 L1046.4 583.5 L1048.5 606.8 L1050.5 629.7 L1052.6 651.8 L1054.7 672.8 L1056.8 692.2 L1058.8 709.7 L1060.9 725.1 L1063.0 738.1 L1065.1 748.4 L1067.1 755.9 L1069.2 760.5 L1071.3 762.0 L1073.3 759.5 L1075.4 752.1 L1077.4 739.8 L1079.5 723.0 L1081.5 702.0 L1083.6 677.3 L1085.6 649.2 L1087.7 618.5 L1089.7 585.7 L1091.8 551.4 L1093.8 516.5 L1095.8 481.6 L1097.9 447.3 L1099.9 414.5 L1102.0 383.8 L1104.0 355.7 L1106.1 331.0 L1108.1 310.0 L1110.2 293.2 L1112.2 280.9 L1114.3 273.5 L1116.3 271.0 L1118.4 274.0 L1120.5 282.7 L1122.5 297.2 L1124.6 317.0 L1126.7 341.8 L1128.8 371.1 L1130.8 404.2 L1132.9 440.5 L1135.0 479.3 L1137.1 519.7 L1139.2 561.0 L1141.2 602.3 L1143.3 642.7 L1145.4 681.5 L1147.5 717.8 L1149.5 750.9 L1151.6 780.2 L1153.7 805.0 L1155.8 824.8 L1157.8 839.3 L1159.9 848.0 L1162.0 851.0 L1164.0 848.0 L1166.1 839.0 L1168.1 824.3 L1170.1 804.1 L1172.1 778.9 L1174.2 749.1 L1176.2 715.4 L1178.2 678.5 L1180.2 639.0 L1182.3 597.9 L1184.3 555.9 L1186.3 513.8 L1188.4 472.7 L1190.4 433.2 L1192.4 396.3 L1194.4 362.6 L1196.5 332.8 L1198.5 307.6 L1200.5 287.4 L1202.5 272.7 L1204.6 263.7 L1206.6 260.7 L1208.7 263.3 L1210.8 271.2 L1212.8 284.1 L1214.9 301.8 L1217.0 324.0 L1219.1 350.1 L1221.2 379.7 L1223.3 412.2 L1225.3 446.8 L1227.4 483.0 L1229.5 519.8 L1231.6 556.7 L1233.7 592.9 L1235.7 627.5 L1237.8 660.0 L1239.9 689.6 L1242.0 715.7 L1244.1 737.9 L1246.2 755.6 L1248.2 768.5 L1250.3 776.4 L1252.4 779.0 L1254.5 777.1 L1256.5 771.6 L1258.6 762.5 L1260.7 750.0 L1262.7 734.3 L1264.8 715.7 L1266.9 694.5 L1269.0 671.3 L1271.0 646.3 L1273.1 620.1 L1275.2 593.1 L1277.2 565.9 L1279.3 538.9 L1281.4 512.7 L1283.4 487.7 L1285.5 464.5 L1287.6 443.3 L1289.7 424.7 L1291.7 409.0 L1293.8 396.5 L1295.9 387.4 L1297.9 381.9 L1300.0 380.0 L1302.0 381.5 L1304.1 385.9 L1306.1 393.2 L1308.2 403.1 L1310.2 415.5 L1312.3 430.1 L1314.3 446.5 L1316.4 464.4 L1318.4 483.4 L1320.5 503.1 L1322.5 522.9 L1324.6 542.6 L1326.6 561.6 L1328.7 579.5 L1330.7 595.9 L1332.8 610.5 L1334.8 622.9 L1336.9 632.8 L1338.9 640.1 L1341.0 644.5 L1343.0 646.0 L1345.0 644.7 L1347.0 640.8 L1349.0 634.5 L1351.0 625.9 L1353.0 615.4 L1355.0 603.3 L1357.0 590.1 L1359.0 576.1 L1361.0 561.9 L1363.0 547.9 L1365.0 534.7 L1367.0 522.6 L1369.0 512.1 L1371.0 503.5 L1373.0 497.2 L1375.0 493.3 L1377.0 492.0 L1379.0 492.2 L1381.0 493.0 L1383.0 494.2 L1385.0 495.9 L1387.0 498.0 L1389.0 500.5 L1391.0 503.4 L1393.0 506.6 L1395.0 510.1 L1397.0 513.8 L1399.0 517.6 L1401.0 521.5 L1403.0 525.5 L1405.0 529.4 L1407.0 533.2 L1409.0 536.9 L1411.0 540.4 L1413.0 543.6 L1415.0 546.5 L1417.0 549.0 L1419.0 551.1 L1421.0 552.8 L1423.0 554.0 L1425.0 554.8 L1427.0 555.0 L1429.1 554.8 L1431.2 554.4 L1433.3 553.6 L1435.4 552.5 L1437.4 551.2 L1439.5 549.7 L1441.6 548.1 L1443.7 546.4 L1445.8 544.6 L1447.9 542.9 L1450.0 541.3 L1452.1 539.8 L1454.1 538.5 L1456.2 537.4 L1458.3 536.6 L1460.4 536.2 L1462.5 536.0 L1464.6 536.4 L1466.7 537.5 L1468.7 539.3 L1470.8 541.7 L1472.9 544.6 L1475.0 548.1 L1477.0 551.8 L1479.1 555.7 L1481.2 559.8 L1483.3 563.7 L1485.3 567.4 L1487.4 570.9 L1489.5 573.8 L1491.6 576.2 L1493.6 578.0 L1495.7 579.1 L1497.8 579.5 L1499.8 579.2 L1501.9 578.2 L1503.9 576.6 L1506.0 574.3 L1508.0 571.5 L1510.1 568.2 L1512.1 564.4 L1514.2 560.1 L1516.2 555.5 L1518.3 550.7 L1520.3 545.6 L1522.4 540.4 L1524.4 535.1 L1526.5 529.9 L1528.5 524.8 L1530.6 520.0 L1532.6 515.4 L1534.7 511.1 L1536.7 507.3 L1538.8 504.0 L1540.8 501.2 L1542.9 498.9 L1544.9 497.3 L1547.0 496.3 L1549.0 496.0 L1551.0 496.6 L1553.0 498.2 L1555.0 501.0 L1557.0 504.8 L1559.0 509.5 L1561.0 515.2 L1563.0 521.6 L1565.0 528.8 L1567.0 536.4 L1569.0 544.5 L1571.0 553.0 L1573.0 561.5 L1575.0 570.0 L1577.0 578.5 L1579.0 586.6 L1581.0 594.2 L1583.0 601.4 L1585.0 607.8 L1587.0 613.5 L1589.0 618.2 L1591.0 622.0 L1593.0 624.8 L1595.0 626.4 L1597.0 627.0 L1599.0 626.2 L1601.0 623.7 L1603.1 619.6 L1605.1 614.0 L1607.1 606.9 L1609.2 598.5 L1611.2 588.9 L1613.2 578.4 L1615.2 566.9 L1617.2 554.9 L1619.3 542.4 L1621.3 529.7 L1623.3 517.0 L1625.3 504.5 L1627.4 492.5 L1629.4 481.1 L1631.4 470.5 L1633.4 460.9 L1635.5 452.5 L1637.5 445.4 L1639.5 439.8 L1641.5 435.7 L1643.6 433.2 L1645.6 432.4 L1647.6 433.6 L1649.6 437.1 L1651.6 442.9 L1653.6 450.9 L1655.6 460.9 L1657.6 472.8 L1659.7 486.4 L1661.7 501.4 L1663.7 517.7 L1665.7 534.8 L1667.7 552.5 L1669.7 570.5 L1671.7 588.5 L1673.7 606.2 L1675.7 623.3 L1677.7 639.5 L1679.7 654.6 L1681.8 668.2 L1683.8 680.1 L1685.8 690.1 L1687.8 698.1 L1689.8 703.9 L1691.8 707.4 L1693.8 708.6 L1695.8 707.6 L1697.9 704.5 L1699.9 699.4 L1701.9 692.3 L1703.9 683.4 L1706.0 672.7 L1708.0 660.3 L1710.0 646.4 L1712.0 631.2 L1714.1 614.9 L1716.1 597.6 L1718.1 579.5 L1720.2 560.8 L1722.2 541.8 L1724.2 522.8 L1726.2 503.8 L1728.3 485.1 L1730.3 467.0 L1732.3 449.7 L1734.4 433.4 L1736.4 418.2 L1738.4 404.3 L1740.4 391.9 L1742.5 381.2 L1744.5 372.3 L1746.5 365.2 L1748.5 360.1 L1750.6 357.0 L1752.6 356.0 L1754.6 358.2 L1756.6 364.9 L1758.6 375.9 L1760.6 391.0 L1762.6 409.8 L1764.7 431.8 L1766.7 456.7 L1768.7 483.8 L1770.7 512.5 L1772.7 542.3 L1774.7 572.4 L1776.7 602.2 L1778.7 630.9 L1780.7 658.0 L1782.7 682.9 L1784.8 704.9 L1786.8 723.7 L1788.8 738.8 L1790.8 749.8 L1792.8 756.5 L1794.8 758.7 L1796.8 757.0 L1798.8 752.0 L1800.8 743.7 L1802.8 732.3 L1804.8 718.0 L1806.8 700.9 L1808.8 681.3 L1810.8 659.7 L1812.8 636.2 L1814.8 611.3 L1816.8 585.3 L1818.8 558.7 L1820.9 532.0 L1822.9 505.4 L1824.9 479.4 L1826.9 454.5 L1828.9 431.0 L1830.9 409.4 L1832.9 389.8 L1834.9 372.7 L1836.9 358.4 L1838.9 347.0 L1840.9 338.7 L1842.9 333.7 L1844.9 332.0 L1847.0 334.0 L1849.1 339.9 L1851.1 349.6 L1853.2 362.9 L1855.3 379.6 L1857.4 399.4 L1859.4 421.8 L1861.5 446.6 L1863.6 473.1 L1865.7 501.0 L1867.8 529.7 L1869.8 558.7 L1871.9 587.4 L1874.0 615.3 L1876.1 641.8 L1878.2 666.6 L1880.2 689.0 L1882.3 708.8 L1884.4 725.5 L1886.5 738.8 L1888.5 748.5 L1890.6 754.4 L1892.7 756.4 L1894.8 753.9 L1896.8 746.4 L1898.9 734.2 L1900.9 717.5 L1903.0 696.7 L1905.0 672.4 L1907.0 645.2 L1909.1 615.6 L1911.2 584.6 L1913.2 552.7 L1915.2 520.8 L1917.3 489.8 L1919.4 460.2 L1921.4 433.0 L1923.5 408.7 L1925.5 387.9 L1927.5 371.2 L1929.6 359.0 L1931.7 351.5 L1933.7 349.0 L1935.7 350.9 L1937.7 356.7 L1939.7 366.2 L1941.8 379.2 L1943.8 395.4 L1945.8 414.6 L1947.8 436.3 L1949.8 460.1 L1951.8 485.5 L1953.8 512.0 L1955.8 539.0 L1957.9 566.0 L1959.9 592.5 L1961.9 617.9 L1963.9 641.7 L1965.9 663.4 L1967.9 682.6 L1969.9 698.8 L1972.0 711.8 L1974.0 721.3 L1976.0 727.1 L1978.0 729.0 L1980.0 727.8 L1982.1 724.3 L1984.1 718.6 L1986.1 710.6 L1988.1 700.5 L1990.2 688.5 L1992.2 674.7 L1994.2 659.3 L1996.2 642.5 L1998.3 624.5 L2000.3 605.6 L2002.3 586.0 L2004.3 566.1 L2006.4 545.9 L2008.4 526.0 L2010.4 506.4 L2012.4 487.5 L2014.5 469.5 L2016.5 452.7 L2018.5 437.3 L2020.5 423.5 L2022.6 411.5 L2024.6 401.4 L2026.6 393.4 L2028.6 387.7 L2030.7 384.2 L2032.7 383.0 L2034.8 384.8 L2036.9 390.2 L2039.0 399.0 L2041.1 411.1 L2043.2 426.1 L2045.3 443.7 L2047.4 463.4 L2049.5 484.7 L2051.6 507.2 L2053.7 530.2 L2055.7 553.3 L2057.8 575.8 L2059.9 597.1 L2062.0 616.8 L2064.1 634.4 L2066.2 649.4 L2068.3 661.5 L2070.4 670.3 L2072.5 675.7 L2074.6 677.5 L2076.6 676.5 L2078.7 673.6 L2080.7 668.9 L2082.7 662.3 L2084.8 654.1 L2086.8 644.3 L2088.8 633.1 L2090.9 620.8 L2092.9 607.5 L2094.9 593.4 L2097.0 578.9 L2099.0 564.1 L2101.0 549.2 L2103.1 534.7 L2105.1 520.6 L2107.1 507.3 L2109.2 495.0 L2111.2 483.8 L2113.2 474.0 L2115.3 465.8 L2117.3 459.2 L2119.3 454.5 L2121.4 451.6 L2123.4 450.6 L2125.5 451.6 L2127.6 454.5 L2129.7 459.4 L2131.8 466.0 L2133.9 474.2 L2135.9 483.9 L2138.0 494.9 L2140.1 506.8 L2142.2 519.4 L2144.3 532.5 L2146.4 545.8 L2148.5 558.9 L2150.6 571.5 L2152.7 583.4 L2154.8 594.4 L2156.8 604.1 L2158.9 612.3 L2161.0 618.9 L2163.1 623.8 L2165.2 626.7 L2167.3 627.7 L2169.3 626.6 L2171.4 623.5 L2173.4 618.3 L2175.5 611.2 L2177.5 602.3 L2179.6 591.9 L2181.6 580.2 L2183.6 567.4 L2185.7 553.8 L2187.7 539.8 L2189.8 525.5 L2191.8 511.5 L2193.9 497.9 L2195.9 485.1 L2197.9 473.4 L2200.0 463.0 L2202.0 454.1 L2204.1 447.0 L2206.1 441.8 L2208.2 438.7 L2210.2 437.6 L2212.3 439.4 L2214.3 444.6 L2216.4 453.3 L2218.5 465.0 L2220.5 479.7 L2222.6 496.8 L2224.7 516.1 L2226.7 536.9 L2228.8 558.8 L2230.8 581.3 L2232.9 603.8 L2235.0 625.7 L2237.0 646.5 L2239.1 665.8 L2241.2 682.9 L2243.2 697.6 L2245.3 709.3 L2247.4 718.0 L2249.4 723.2 L2251.5 725.0 L2253.5 723.1 L2255.6 717.5 L2257.6 708.4 L2259.6 696.0 L2261.6 680.6 L2263.7 662.7 L2265.7 642.7 L2267.7 621.3 L2269.7 598.9 L2271.8 576.1 L2273.8 553.7 L2275.8 532.3 L2277.8 512.3 L2279.9 494.4 L2281.9 479.0 L2283.9 466.6 L2285.9 457.5 L2288.0 451.9 L2290.0 450.0" stroke="#24f824" stroke-width="6.4" stroke-dasharray="24 12"/>
<path d="M203.0 546.5 L205.1 546.4 L207.3 546.0 L209.4 545.5 L211.6 545.0 L213.7 544.5 L215.9 544.1 L218.0 544.0 L220.0 544.1 L222.1 544.4 L224.1 544.9 L226.2 545.5 L228.2 546.4 L230.2 547.4 L232.3 548.5 L234.3 549.8 L236.3 551.2 L238.4 552.7 L240.4 554.3 L242.5 555.9 L244.5 557.5 L246.5 559.1 L248.6 560.7 L250.6 562.3 L252.7 563.8 L254.7 565.2 L256.7 566.5 L258.8 567.6 L260.8 568.6 L262.8 569.5 L264.9 570.1 L266.9 570.6 L269.0 570.9 L271.0 571.0 L273.0 570.6 L275.0 569.4 L277.0 567.4 L279.0 564.6 L281.0 561.1 L283.0 557.0 L285.0 552.4 L287.0 547.2 L289.0 541.7 L291.0 536.0 L293.0 530.0 L295.0 524.0 L297.0 518.0 L299.0 512.3 L301.0 506.8 L303.0 501.6 L305.0 497.0 L307.0 492.9 L309.0 489.4 L311.0 486.6 L313.0 484.6 L315.0 483.4 L317.0 483.0 L319.0 483.8 L321.1 486.1 L323.1 489.9 L325.1 495.1 L327.1 501.6 L329.2 509.4 L331.2 518.2 L333.2 528.0 L335.3 538.6 L337.3 549.7 L339.3 561.3 L341.4 573.0 L343.4 584.7 L345.4 596.3 L347.4 607.4 L349.5 618.0 L351.5 627.8 L353.5 636.6 L355.6 644.4 L357.6 650.9 L359.6 656.1 L361.6 659.9 L363.7 662.2 L365.7 663.0 L367.7 661.7 L369.7 657.7 L371.8 651.2 L373.8 642.3 L375.8 631.0 L377.8 617.8 L379.9 602.7 L381.9 586.1 L383.9 568.2 L385.9 549.5 L387.9 530.2 L390.0 510.8 L392.0 491.5 L394.0 472.8 L396.0 454.9 L398.0 438.3 L400.1 423.2 L402.1 410.0 L404.1 398.7 L406.1 389.8 L408.2 383.3 L410.2 379.3 L412.2 378.0 L414.2 379.9 L416.2 385.6 L418.3 394.9 L420.3 407.8 L422.3 423.8 L424.3 442.7 L426.4 464.1 L428.4 487.6 L430.4 512.7 L432.4 538.8 L434.4 565.5 L436.5 592.2 L438.5 618.3 L440.5 643.4 L442.5 666.9 L444.6 688.3 L446.6 707.2 L448.6 723.2 L450.6 736.1 L452.7 745.4 L454.7 751.1 L456.7 753.0 L458.7 751.2 L460.8 745.8 L462.8 736.9 L464.8 724.7 L466.8 709.3 L468.9 691.1 L470.9 670.4 L472.9 647.4 L474.9 622.6 L476.9 596.4 L479.0 569.3 L481.0 541.8 L483.0 514.2 L485.1 487.1 L487.1 460.9 L489.1 436.1 L491.1 413.1 L493.1 392.4 L495.2 374.2 L497.2 358.8 L499.2 346.6 L501.2 337.7 L503.3 332.3 L505.3 330.5 L507.4 332.6 L509.4 338.9 L511.5 349.1 L513.5 363.2 L515.6 380.9 L517.7 401.7 L519.7 425.2 L521.8 451.1 L523.8 478.6 L525.9 507.4 L528.0 536.8 L530.0 566.1 L532.1 594.9 L534.1 622.4 L536.2 648.3 L538.2 671.8 L540.3 692.6 L542.4 710.3 L544.4 724.4 L546.5 734.6 L548.5 740.9 L550.6 743.0 L552.6 741.4 L554.6 736.4 L556.7 728.3 L558.7 717.2 L560.7 703.3 L562.7 686.8 L564.8 668.1 L566.8 647.4 L568.8 625.3 L570.8 602.0 L572.8 578.1 L574.9 553.9 L576.9 530.0 L578.9 506.7 L580.9 484.6 L582.9 463.9 L585.0 445.2 L587.0 428.7 L589.0 414.8 L591.0 403.7 L593.1 395.6 L595.1 390.6 L597.1 389.0 L599.2 390.4 L601.3 394.5 L603.3 401.2 L605.4 410.5 L607.5 422.1 L609.6 435.8 L611.7 451.2 L613.8 468.2 L615.8 486.3 L617.9 505.2 L620.0 524.5 L622.1 543.8 L624.2 562.7 L626.2 580.8 L628.3 597.8 L630.4 613.2 L632.5 626.9 L634.6 638.5 L636.7 647.8 L638.7 654.5 L640.8 658.6 L642.9 660.0 L644.9 659.1 L646.9 656.3 L649.0 651.7 L651.0 645.4 L653.0 637.5 L655.0 628.2 L657.0 617.7 L659.0 606.2 L661.1 593.9 L663.1 581.1 L665.1 568.0 L667.1 554.9 L669.1 542.1 L671.2 529.8 L673.2 518.3 L675.2 507.8 L677.2 498.5 L679.2 490.6 L681.2 484.3 L683.3 479.7 L685.3 476.9 L687.3 476.0 L689.4 476.6 L691.4 478.3 L693.5 481.1 L695.5 485.0 L697.6 489.8 L699.7 495.5 L701.7 502.0 L703.8 509.0 L705.8 516.6 L707.9 524.5 L710.0 532.5 L712.0 540.5 L714.1 548.4 L716.1 556.0 L718.2 563.0 L720.2 569.5 L722.3 575.2 L724.4 580.0 L726.4 583.9 L728.5 586.7 L730.5 588.4 L732.6 589.0 L734.6 588.6 L736.6 587.6 L738.7 585.8 L740.7 583.4 L742.7 580.3 L744.7 576.8 L746.7 572.8 L748.8 568.4 L750.8 563.7 L752.8 558.9 L754.8 554.1 L756.8 549.3 L758.8 544.6 L760.9 540.2 L762.9 536.2 L764.9 532.7 L766.9 529.6 L768.9 527.2 L771.0 525.4 L773.0 524.4 L775.0 524.0 L777.0 524.2 L779.0 524.8 L781.0 525.7 L783.0 527.0 L785.0 528.7 L787.0 530.6 L789.0 532.8 L791.0 535.1 L793.0 537.6 L795.0 540.2 L797.0 542.8 L799.0 545.4 L801.0 547.9 L803.0 550.2 L805.0 552.4 L807.0 554.3 L809.0 556.0 L811.0 557.3 L813.0 558.2 L815.0 558.8 L817.0 559.0 L819.0 558.9 L821.0 558.5 L823.0 557.9 L825.0 557.0 L827.0 556.0 L829.0 554.8 L831.0 553.4 L833.0 552.0 L835.0 550.5 L837.0 549.0 L839.0 547.6 L841.0 546.2 L843.0 545.0 L845.0 544.0 L847.0 543.1 L849.0 542.5 L851.0 542.1 L853.0 542.0 L855.1 542.1 L857.1 542.6 L859.2 543.3 L861.2 544.2 L863.3 545.3 L865.4 546.6 L867.4 548.0 L869.5 549.5 L871.6 551.0 L873.6 552.4 L875.7 553.7 L877.8 554.8 L879.8 555.7 L881.9 556.4 L883.9 556.9 L886.0 557.0 L888.0 556.8 L890.0 556.4 L892.0 555.6 L894.0 554.5 L896.0 553.2 L898.0 551.6 L900.1 549.8 L902.1 547.8 L904.1 545.6 L906.1 543.3 L908.1 540.9 L910.1 538.5 L912.1 536.1 L914.1 533.7 L916.1 531.4 L918.1 529.2 L920.1 527.2 L922.2 525.4 L924.2 523.8 L926.2 522.5 L928.2 521.4 L930.2 520.6 L932.2 520.2 L934.2 520.0 L936.2 520.5 L938.3 521.9 L940.3 524.2 L942.3 527.4 L944.4 531.4 L946.4 536.1 L948.5 541.5 L950.5 547.3 L952.5 553.6 L954.6 560.1 L956.6 566.8 L958.6 573.4 L960.7 579.9 L962.7 586.2 L964.7 592.0 L966.8 597.4 L968.8 602.1 L970.9 606.1 L972.9 609.3 L974.9 611.6 L977.0 613.0 L979.0 613.5 L981.1 612.6 L983.2 609.9 L985.2 605.5 L987.3 599.4 L989.4 591.8 L991.5 582.8 L993.6 572.5 L995.7 561.3 L997.7 549.1 L999.8 536.4 L1001.9 523.4 L1004.0 510.1 L1006.1 497.1 L1008.2 484.4 L1010.2 472.2 L1012.3 461.0 L1014.4 450.7 L1016.5 441.7 L1018.6 434.1 L1020.7 428.0 L1022.7 423.6 L1024.8 420.9 L1026.9 420.0 L1028.9 421.5 L1030.9 425.9 L1032.9 433.2 L1034.9 443.1 L1036.9 455.7 L1038.9 470.5 L1040.9 487.3 L1042.9 505.8 L1044.9 525.8 L1046.9 546.7 L1048.9 568.1 L1051.0 589.9 L1053.0 611.3 L1055.0 632.2 L1057.0 652.2 L1059.0 670.7 L1061.0 687.5 L1063.0 702.3 L1065.0 714.9 L1067.0 724.8 L1069.0 732.1 L1071.0 736.5 L1073.0 738.0 L1075.0 735.9 L1077.0 729.8 L1079.0 719.7 L1081.1 705.8 L1083.1 688.3 L1085.1 667.7 L1087.1 644.2 L1089.1 618.4 L1091.1 590.7 L1093.1 561.6 L1095.1 531.6 L1097.2 501.4 L1099.2 471.4 L1101.2 442.3 L1103.2 414.6 L1105.2 388.8 L1107.2 365.3 L1109.2 344.7 L1111.2 327.2 L1113.3 313.3 L1115.3 303.2 L1117.3 297.1 L1119.3 295.0 L1121.3 297.7 L1123.4 305.7 L1125.4 318.9 L1127.5 337.0 L1129.5 359.6 L1131.6 386.3 L1133.6 416.5 L1135.7 449.6 L1137.7 485.0 L1139.8 521.9 L1141.8 559.5 L1143.8 597.1 L1145.9 634.0 L1147.9 669.4 L1150.0 702.5 L1152.0 732.7 L1154.1 759.4 L1156.1 782.0 L1158.2 800.1 L1160.2 813.3 L1162.3 821.3 L1164.3 824.0 L1166.4 821.2 L1168.4 812.8 L1170.5 799.1 L1172.6 780.3 L1174.6 756.7 L1176.7 728.9 L1178.7 697.4 L1180.8 662.9 L1182.9 626.1 L1184.9 587.7 L1187.0 548.5 L1189.1 509.3 L1191.1 470.9 L1193.2 434.1 L1195.3 399.6 L1197.3 368.1 L1199.4 340.3 L1201.4 316.7 L1203.5 297.9 L1205.6 284.2 L1207.6 275.8 L1209.7 273.0 L1211.8 275.5 L1213.8 283.1 L1215.9 295.5 L1217.9 312.6 L1220.0 333.9 L1222.1 359.1 L1224.1 387.6 L1226.2 418.9 L1228.2 452.2 L1230.3 487.0 L1232.3 522.5 L1234.4 558.0 L1236.5 592.8 L1238.5 626.1 L1240.6 657.4 L1242.6 685.9 L1244.7 711.1 L1246.8 732.4 L1248.8 749.5 L1250.9 761.9 L1252.9 769.5 L1255.0 772.0 L1257.1 770.0 L1259.2 764.2 L1261.3 754.6 L1263.3 741.4 L1265.4 724.9 L1267.5 705.4 L1269.6 683.3 L1271.7 659.2 L1273.8 633.4 L1275.9 606.5 L1278.0 579.0 L1280.0 551.5 L1282.1 524.6 L1284.2 498.8 L1286.3 474.7 L1288.4 452.6 L1290.5 433.1 L1292.6 416.6 L1294.6 403.4 L1296.7 393.8 L1298.8 388.0 L1300.9 386.0 L1303.0 387.4 L1305.0 391.7 L1307.1 398.8 L1309.1 408.4 L1311.2 420.4 L1313.2 434.6 L1315.3 450.5 L1317.3 467.9 L1319.4 486.3 L1321.4 505.4 L1323.5 524.6 L1325.5 543.7 L1327.6 562.1 L1329.6 579.5 L1331.7 595.4 L1333.7 609.6 L1335.8 621.6 L1337.8 631.2 L1339.9 638.3 L1341.9 642.6 L1344.0 644.0 L1346.0 642.7 L1348.0 638.9 L1350.0 632.6 L1352.0 624.2 L1354.0 613.8 L1356.0 601.9 L1358.0 588.8 L1360.0 575.0 L1362.0 561.0 L1364.0 547.2 L1366.0 534.1 L1368.0 522.2 L1370.0 511.8 L1372.0 503.4 L1374.0 497.1 L1376.0 493.3 L1378.0 492.0 L1380.0 492.5 L1382.0 493.9 L1384.1 496.3 L1386.1 499.5 L1388.1 503.5 L1390.1 508.2 L1392.1 513.5 L1394.2 519.3 L1396.2 525.4 L1398.2 531.8 L1400.2 538.2 L1402.2 544.6 L1404.2 550.7 L1406.3 556.5 L1408.3 561.8 L1410.3 566.5 L1412.3 570.5 L1414.3 573.7 L1416.4 576.1 L1418.4 577.5 L1420.4 578.0 L1422.4 577.5 L1424.5 576.2 L1426.5 574.0 L1428.5 570.9 L1430.6 567.2 L1432.6 562.8 L1434.6 558.0 L1436.7 552.7 L1438.7 547.3 L1440.7 541.7 L1442.7 536.3 L1444.8 531.0 L1446.8 526.2 L1448.8 521.8 L1450.9 518.1 L1452.9 515.0 L1454.9 512.8 L1457.0 511.5 L1459.0 511.0 L1461.0 511.5 L1463.0 512.8 L1465.0 515.0 L1467.0 518.0 L1469.0 521.8 L1471.0 526.2 L1473.0 531.2 L1475.0 536.7 L1477.0 542.5 L1479.0 548.5 L1481.0 554.5 L1483.0 560.5 L1485.0 566.3 L1487.0 571.8 L1489.0 576.8 L1491.0 581.2 L1493.0 585.0 L1495.0 588.0 L1497.0 590.2 L1499.0 591.5 L1501.0 592.0 L1503.0 591.6 L1505.0 590.4 L1507.0 588.4 L1509.0 585.7 L1511.1 582.2 L1513.1 578.1 L1515.1 573.4 L1517.1 568.2 L1519.1 562.6 L1521.1 556.6 L1523.1 550.4 L1525.1 544.0 L1527.2 537.5 L1529.2 531.1 L1531.2 524.9 L1533.2 518.9 L1535.2 513.3 L1537.2 508.1 L1539.2 503.4 L1541.2 499.3 L1543.3 495.8 L1545.3 493.1 L1547.3 491.1 L1549.3 489.9 L1551.3 489.5 L1553.3 490.1 L1555.3 492.0 L1557.3 495.1 L1559.3 499.4 L1561.3 504.7 L1563.3 511.0 L1565.3 518.2 L1567.3 526.1 L1569.3 534.6 L1571.3 543.5 L1573.3 552.6 L1575.4 561.9 L1577.4 571.0 L1579.4 579.9 L1581.4 588.4 L1583.4 596.3 L1585.4 603.5 L1587.4 609.8 L1589.4 615.1 L1591.4 619.4 L1593.4 622.5 L1595.4 624.4 L1597.4 625.0 L1599.5 624.3 L1601.5 622.3 L1603.6 618.9 L1605.7 614.3 L1607.8 608.4 L1609.8 601.5 L1611.9 593.5 L1614.0 584.6 L1616.1 575.0 L1618.1 564.7 L1620.2 553.9 L1622.3 542.8 L1624.3 531.5 L1626.4 520.2 L1628.5 509.1 L1630.6 498.3 L1632.6 488.0 L1634.7 478.4 L1636.8 469.5 L1638.9 461.5 L1640.9 454.6 L1643.0 448.7 L1645.1 444.1 L1647.2 440.7 L1649.2 438.7 L1651.3 438.0 L1653.3 439.0 L1655.4 442.0 L1657.4 446.9 L1659.5 453.7 L1661.5 462.2 L1663.6 472.4 L1665.6 484.0 L1667.7 496.8 L1669.7 510.8 L1671.8 525.6 L1673.8 541.0 L1675.9 556.8 L1677.9 572.7 L1680.0 588.5 L1682.0 603.9 L1684.1 618.7 L1686.1 632.7 L1688.2 645.5 L1690.2 657.1 L1692.3 667.3 L1694.3 675.8 L1696.4 682.6 L1698.4 687.5 L1700.5 690.5 L1702.5 691.5 L1704.5 690.1 L1706.6 686.1 L1708.6 679.5 L1710.7 670.3 L1712.7 658.8 L1714.8 645.2 L1716.8 629.7 L1718.8 612.5 L1720.9 593.9 L1722.9 574.4 L1725.0 554.1 L1727.0 533.5 L1729.0 512.8 L1731.1 492.5 L1733.1 473.0 L1735.2 454.4 L1737.2 437.2 L1739.2 421.7 L1741.3 408.1 L1743.3 396.6 L1745.4 387.4 L1747.4 380.8 L1749.5 376.8 L1751.5 375.4 L1753.5 376.9 L1755.6 381.6 L1757.6 389.2 L1759.7 399.6 L1761.7 412.8 L1763.8 428.4 L1765.8 446.1 L1767.8 465.8 L1769.9 487.0 L1771.9 509.4 L1774.0 532.6 L1776.0 556.2 L1778.0 579.8 L1780.1 603.0 L1782.1 625.4 L1784.2 646.6 L1786.2 666.3 L1788.2 684.0 L1790.3 699.6 L1792.3 712.8 L1794.4 723.2 L1796.4 730.8 L1798.5 735.5 L1800.5 737.0 L1802.5 735.2 L1804.6 729.8 L1806.6 720.9 L1808.6 708.8 L1810.7 693.5 L1812.7 675.4 L1814.7 654.9 L1816.7 632.3 L1818.8 608.0 L1820.8 582.6 L1822.8 556.3 L1824.9 529.9 L1826.9 503.6 L1828.9 478.2 L1831.0 453.9 L1833.0 431.3 L1835.0 410.8 L1837.0 392.7 L1839.1 377.4 L1841.1 365.3 L1843.1 356.4 L1845.2 351.0 L1847.2 349.2 L1849.3 351.0 L1851.4 356.5 L1853.4 365.4 L1855.5 377.8 L1857.6 393.2 L1859.7 411.5 L1861.7 432.3 L1863.8 455.1 L1865.9 479.7 L1868.0 505.5 L1870.1 532.0 L1872.1 558.8 L1874.2 585.3 L1876.3 611.1 L1878.4 635.7 L1880.5 658.5 L1882.5 679.3 L1884.6 697.6 L1886.7 713.0 L1888.8 725.4 L1890.8 734.3 L1892.9 739.8 L1895.0 741.6 L1897.0 739.7 L1899.0 733.9 L1901.1 724.4 L1903.1 711.4 L1905.1 695.1 L1907.1 675.9 L1909.1 654.1 L1911.1 630.2 L1913.2 604.8 L1915.2 578.2 L1917.2 551.1 L1919.2 524.0 L1921.2 497.4 L1923.3 472.0 L1925.3 448.1 L1927.3 426.3 L1929.3 407.1 L1931.3 390.8 L1933.3 377.8 L1935.4 368.3 L1937.4 362.5 L1939.4 360.6 L1941.5 362.3 L1943.5 367.2 L1945.6 375.4 L1947.7 386.6 L1949.7 400.7 L1951.8 417.3 L1953.9 436.2 L1956.0 457.1 L1958.0 479.5 L1960.1 502.9 L1962.2 527.1 L1964.2 551.5 L1966.3 575.7 L1968.4 599.1 L1970.4 621.5 L1972.5 642.4 L1974.6 661.3 L1976.7 677.9 L1978.7 692.0 L1980.8 703.2 L1982.9 711.4 L1984.9 716.3 L1987.0 718.0 L1989.1 716.5 L1991.1 712.1 L1993.2 704.9 L1995.3 695.0 L1997.4 682.5 L1999.4 667.8 L2001.5 651.1 L2003.6 632.6 L2005.7 612.8 L2007.7 592.1 L2009.8 570.7 L2011.9 549.1 L2014.0 527.7 L2016.0 507.0 L2018.1 487.2 L2020.2 468.7 L2022.3 452.0 L2024.3 437.3 L2026.4 424.8 L2028.5 414.9 L2030.6 407.7 L2032.6 403.3 L2034.7 401.8 L2036.7 403.1 L2038.8 407.0 L2040.8 413.4 L2042.9 422.1 L2044.9 433.0 L2046.9 445.9 L2049.0 460.6 L2051.0 476.6 L2053.1 493.7 L2055.1 511.5 L2057.2 529.7 L2059.2 547.9 L2061.2 565.7 L2063.3 582.8 L2065.3 598.8 L2067.4 613.5 L2069.4 626.4 L2071.4 637.3 L2073.5 646.0 L2075.5 652.4 L2077.6 656.3 L2079.6 657.6 L2081.6 656.5 L2083.7 653.4 L2085.7 648.2 L2087.8 641.1 L2089.8 632.2 L2091.8 621.8 L2093.9 610.1 L2095.9 597.3 L2097.9 583.7 L2100.0 569.7 L2102.0 555.4 L2104.1 541.4 L2106.1 527.8 L2108.1 515.0 L2110.2 503.3 L2112.2 492.9 L2114.2 484.0 L2116.3 476.9 L2118.3 471.7 L2120.4 468.6 L2122.4 467.5 L2124.5 468.3 L2126.6 470.8 L2128.7 474.9 L2130.8 480.5 L2132.9 487.5 L2134.9 495.8 L2137.0 505.1 L2139.1 515.2 L2141.2 525.9 L2143.3 537.0 L2145.4 548.2 L2147.5 559.3 L2149.6 570.0 L2151.7 580.1 L2153.8 589.4 L2155.8 597.7 L2157.9 604.7 L2160.0 610.3 L2162.1 614.4 L2164.2 616.9 L2166.3 617.7 L2168.3 616.8 L2170.4 614.1 L2172.4 609.6 L2174.5 603.4 L2176.5 595.8 L2178.6 586.8 L2180.6 576.7 L2182.6 565.6 L2184.7 553.9 L2186.7 541.8 L2188.8 529.5 L2190.8 517.4 L2192.9 505.7 L2194.9 494.6 L2196.9 484.5 L2199.0 475.5 L2201.0 467.9 L2203.1 461.7 L2205.1 457.2 L2207.2 454.5 L2209.2 453.6 L2211.3 454.7 L2213.3 457.9 L2215.4 463.2 L2217.5 470.4 L2219.6 479.6 L2221.6 490.4 L2223.7 502.8 L2225.8 516.5 L2227.9 531.2 L2229.9 546.8 L2232.0 562.9 L2234.1 579.3 L2236.2 595.7 L2238.2 611.8 L2240.3 627.4 L2242.4 642.1 L2244.5 655.8 L2246.6 668.2 L2248.6 679.0 L2250.7 688.2 L2252.8 695.4 L2254.8 700.7 L2256.9 703.9 L2259.0 705.0 L2261.1 703.6 L2263.1 699.2 L2265.2 692.2 L2267.2 682.6 L2269.2 670.6 L2271.3 656.6 L2273.3 640.8 L2275.4 623.8 L2277.4 605.9 L2279.5 587.5 L2281.6 569.1 L2283.6 551.2 L2285.7 534.2 L2287.7 518.4 L2289.8 504.4 L2291.8 492.4 L2293.8 482.8 L2295.9 475.8 L2297.9 471.4 L2300.0 470.0" stroke="#000" stroke-width="6.4" stroke-dasharray="24 5 13 5"/>
</g>
<rect x="234.5" y="312.3" width="584.5" height="491.5" fill="none" stroke="#000" stroke-width="4"/>
<rect x="892.3" y="208" width="483.4" height="726" fill="none" stroke="#ff00ff" stroke-width="17"/>
<g stroke="#000" fill="none"><path d="M1436 312 L1712 312" stroke-width="4"/><path d="M1436 805.3 L1710 805.3" stroke-width="4"/><path d="M1436 310 L1436 807.3" stroke="#6e6e6e" stroke-width="4.6"/></g>
<path d="M1731 312 L1706 302.5 L1706 321.5 Z" fill="#000"/>
<path d="M1729 805.3 L1704 795.8 L1704 814.8 Z" fill="#000"/>
<rect x="2053.7" y="72.6" width="195.3" height="266.8" fill="#fff" stroke="#c8c8c8" stroke-width="4"/>
<line x1="2063.5" y1="118.8" x2="2115" y2="118.8" stroke="#ff1e1e" stroke-width="7"/>
<line x1="2063.5" y1="206.5" x2="2115" y2="206.5" stroke="#24f824" stroke-width="7" stroke-dasharray="24.5 60"/>
<line x1="2063.5" y1="295.5" x2="2115" y2="295.5" stroke="#000" stroke-width="7" stroke-dasharray="24.5 7 12.5 20"/>
<g font-family="'Liberation Serif', serif" font-size="60.5" fill="#1a1a1a">
<text x="2118" y="150">39<tspan font-size="47" dy="-28" dx="-1">o</tspan><tspan dy="28" dx="-4">C</tspan></text>
<text x="2118" y="238">45<tspan font-size="47" dy="-28" dx="-1">o</tspan><tspan dy="28" dx="-4">C</tspan></text>
<text x="2118" y="326">51<tspan font-size="47" dy="-28" dx="-1">o</tspan><tspan dy="28" dx="-4">C</tspan></text>
</g>
<g font-family="'Liberation Serif', serif" font-size="57" fill="#1a1a1a">
<text x="396" y="284">Crosstalk</text>
<text x="837" y="174.5">First 5-cycle wave packet</text>
<text x="1428" y="292">Boundary reflections</text>
</g>
<g font-family="'Liberation Serif', serif" fill="#262626">
<text x="1105.5" y="1188.5" font-size="67.5">Time / <tspan font-style="italic">μ</tspan><tspan dx="3">s</tspan></text>
<text transform="translate(69.5,737) rotate(-90)" font-size="65.3">Amplitude / V</text>
</g>
<g font-family="'Liberation Sans', sans-serif" font-size="60" fill="#383838">
<text x="201.8" y="1113" text-anchor="middle">0</text>
<text x="419.1" y="1113" text-anchor="middle">10</text>
<text x="634.8" y="1113" text-anchor="middle">20</text>
<text x="851.8" y="1113" text-anchor="middle">30</text>
<text x="1070.3" y="1113" text-anchor="middle">40</text>
<text x="1288.4" y="1113" text-anchor="middle">50</text>
<text x="1504.0" y="1113" text-anchor="middle">60</text>
<text x="1722.0" y="1113" text-anchor="middle">70</text>
<text x="1939.7" y="1113" text-anchor="middle">80</text>
<text x="2157.0" y="1113" text-anchor="middle">90</text>
<text x="187" y="78" text-anchor="end">1</text>
<text x="187" y="326" text-anchor="end">0.5</text>
<text x="187" y="570" text-anchor="end">0</text>
<text x="187" y="816" text-anchor="end">-0.5</text>
<text x="187" y="1062" text-anchor="end">-1</text>
</g>
</svg>
</body></html>
